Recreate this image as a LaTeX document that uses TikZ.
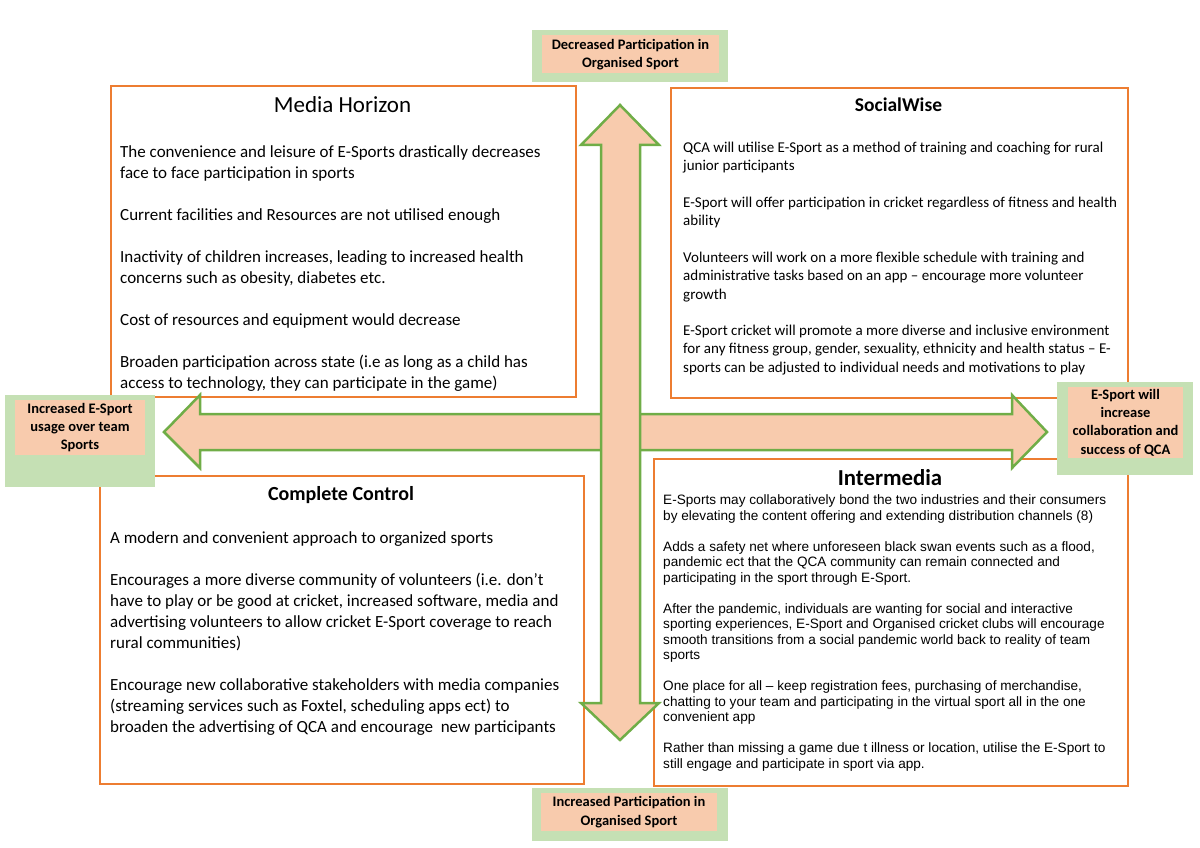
\documentclass[tikz,border=0pt]{standalone}
\usepackage{fontspec}
\setmainfont{Carlito}
\newfontfamily\arialfont{Liberation Sans}
\usetikzlibrary{positioning}

\definecolor{panelorange}{HTML}{ED7D31}
\definecolor{peach}{HTML}{F8CBAD}
\definecolor{sage}{HTML}{C5E0B4}
\definecolor{leafgreen}{HTML}{70AD47}

\tikzset{
  panel/.style={draw=panelorange, line width=2pt, fill=white, anchor=north west, inner sep=0pt},
  heading/.style={anchor=base, inner sep=0pt, font=\bfseries\fontsize{20}{24}\selectfont},
  body/.style={anchor=north west, align=left, inner sep=0pt},
  outcome/.style={fill=sage, anchor=north west, inner sep=0pt},
  tag/.style={fill=peach, inner sep=0pt, align=center, font=\bfseries\fontsize{14.5}{18.3}\selectfont},
  blockarrow/.style={draw=leafgreen, line width=2.5pt, fill=peach, line join=miter}
}

\begin{document}
\begin{tikzpicture}[x=1pt,y=-1pt]
  \useasboundingbox (0,0) rectangle (1200,848);
  \node[panel, minimum width=465pt, minimum height=311pt] (media) at (110,85) {};
  \node[panel, minimum width=457pt, minimum height=310pt] (social) at (670,87) {};
  \node[panel, minimum width=484pt, minimum height=308pt] (control) at (99,475) {};
  \node[panel, minimum width=474pt, minimum height=327pt] (inter) at (653,458) {};

  \node[heading, font=\fontsize{23}{27}\selectfont] (mediatitle) at (342.5,113) {Media Horizon};
  \node[heading, font=\bfseries\fontsize{19.5}{23}\selectfont] (socialtitle) at (898.5,112) {SocialWise};
  \node[heading] (controltitle) at (341,500.5) {Complete Control};
  \node[heading, font=\bfseries\fontsize{22.8}{26}\selectfont] (intertitle) at (890,485.5) {Intermedia};

  \node[body, font=\fontsize{17}{21}\selectfont] (mediatext) at (120,145)
    {The convenience and leisure of E-Sports drastically decreases\\
     face to face participation in sports\\[21pt]
     Current facilities and Resources are not utilised enough\\[21pt]
     Inactivity of children increases, leading to increased health\\
     concerns such as obesity, diabetes etc.\\[21pt]
     Cost of resources and equipment would decrease\\[21pt]
     Broaden participation across state (i.e as long as a child has\\
     access to technology, they can participate in the game)};
  \node[body, font=\fontsize{15}{18.3}\selectfont] (socialtext) at (683,142)
    {QCA will utilise E-Sport as a method of training and coaching for rural\\
     junior participants\\[18.3pt]
     E-Sport will offer participation in cricket regardless of fitness and health\\
     ability\\[18.3pt]
     Volunteers will work on a more flexible schedule with training and\\
     administrative tasks based on an app – encourage more volunteer\\
     growth\\[18.3pt]
     E-Sport cricket will promote a more diverse and inclusive environment\\
     for any fitness group, gender, sexuality, ethnicity and health status – E-\\
     sports can be adjusted to individual needs and motivations to play};
  \node[body, font=\fontsize{17}{21}\selectfont] (controltext) at (110,531)
    {A modern and convenient approach to organized sports\\[21pt]
     Encourages a more diverse community of volunteers (i.e. don’t\\
     have to play or be good at cricket, increased software, media and\\
     advertising volunteers to allow cricket E-Sport coverage to reach\\
     rural communities)\\[21pt]
     Encourage new collaborative stakeholders with media companies\\
     (streaming services such as Foxtel, scheduling apps ect) to\\
     broaden the advertising of QCA and encourage\ \ new participants};
  \node[body, font=\arialfont\fontsize{13.6}{15.5}\selectfont] (intertext) at (663,494.8)
    {E-Sports may collaboratively bond the two industries and their consumers\\
     by elevating the content offering and extending distribution channels (8)\\[15.5pt]
     Adds a safety net where unforeseen black swan events such as a flood,\\
     pandemic ect that the QCA community can remain connected and\\
     participating in the sport through E-Sport.\\[15.5pt]
     After the pandemic, individuals are wanting for social and interactive\\
     sporting experiences, E-Sport and Organised cricket clubs will encourage\\
     smooth transitions from a social pandemic world back to reality of team\\
     sports\\[15.5pt]
     One place for all – keep registration fees, purchasing of merchandise,\\
     chatting to your team and participating in the virtual sport all in the one\\
     convenient app\\[15.5pt]
     Rather than missing a game due t illness or location, utilise the E-Sport to\\
     still engage and participate in sport via app.};

  \draw[blockarrow] (164,432) -- (200,395) -- (200,414) -- (1012,414) -- (1012,395)
    -- (1047,432) -- (1012,468) -- (1012,450) -- (200,450) -- (200,468) -- cycle;
  \draw[blockarrow] (620,105) -- (659,145) -- (640,145) -- (640,703) -- (659,703)
    -- (620,740) -- (581,703) -- (601,703) -- (601,145) -- (581,145) -- cycle;

  \node[outcome, minimum width=196pt, minimum height=52pt] (topout) at (532,30) {};
  \node[tag, minimum width=177pt, minimum height=38pt] (toptag) at (630.5,54.5)
    {Decreased Participation in\\ Organised Sport};
  \node[outcome, minimum width=150pt, minimum height=92pt] (leftout) at (5,395) {};
  \node[tag, minimum width=130pt, minimum height=55pt] (lefttag) at (80,427.5)
    {Increased E-Sport\\ usage over team\\ Sports};
  \node[outcome, minimum width=136pt, minimum height=93pt] (rightout) at (1057,382) {};
  \node[tag, minimum width=115pt, minimum height=71pt] (righttag) at (1125.5,422.5)
    {E-Sport will\\ increase\\ collaboration and\\ success of QCA};
  \node[outcome, minimum width=196pt, minimum height=53pt] (bottomout) at (532,788) {};
  \node[tag, minimum width=176pt, minimum height=38pt] (bottomtag) at (629,812)
    {Increased Participation in\\ Organised Sport};
\end{tikzpicture}
\end{document}
